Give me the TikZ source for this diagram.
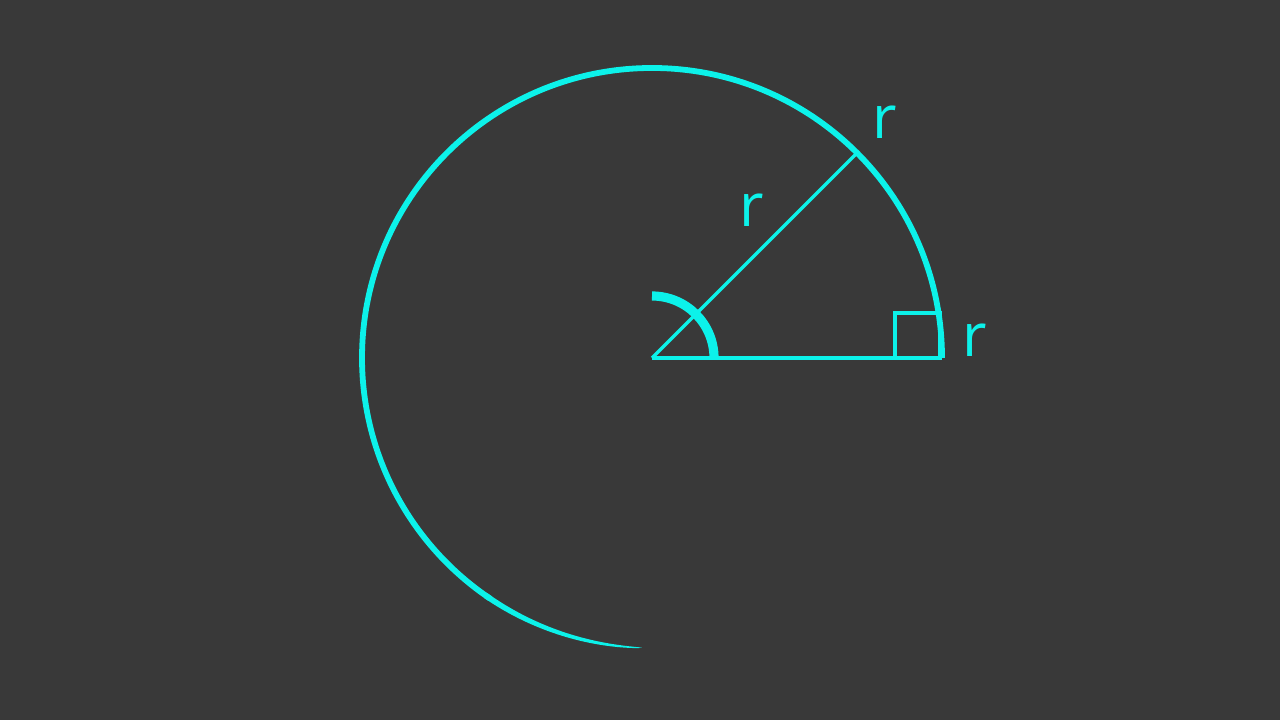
\documentclass[tikz,border=0pt]{standalone}
\usepackage{fontspec}
\setsansfont{Open Sans}
\usepackage{tikz}
\definecolor{bgdark}{HTML}{393939}
\definecolor{radcyan}{HTML}{0CF2EA}
\tikzset{
  rim/.style={radcyan, line width=1.65pt},
  leg/.style={radcyan, line width=0.95pt},
  rlabel/.style={text=radcyan, inner sep=0pt, font=\sffamily\fontsize{17}{20}\selectfont}
}

\begin{document}
\begin{tikzpicture}
\useasboundingbox (0,0) rectangle (12.8,7.2);
\fill[bgdark] (0,0) rectangle (12.8,7.2);
\begin{scope}[shift={(6.52,3.62)}]
\coordinate (O) at (0,0);
\coordinate (A) at (0:2.9);
\coordinate (B) at (45:2.9);
% circle of radius r, thinning out at its end
\draw[rim] (A) arc[start angle=0, end angle=236, radius=2.9];
\fill[radcyan] plot[domain=235:268, samples=50] (\x:{2.9+0.029*sqrt((268-\x)/33)})
  -- plot[domain=268:235, samples=50] (\x:{2.9-0.029*sqrt((268-\x)/33)}) -- cycle;
\draw[leg] (O) -- (A);
\draw[leg] (O) -- (B);
\draw[leg] (2.43,0) rectangle (2.88,0.45);
\draw[radcyan, line width=2.6pt] (0.62,0) arc[start angle=0, end angle=90, radius=0.62];
\end{scope}
\node[rlabel] (rradius) at (7.52,5.10) {r};
\node[rlabel] (rarc) at (8.85,5.98) {r};
\node[rlabel] (rside) at (9.75,3.80) {r};
\end{tikzpicture}
\end{document}
